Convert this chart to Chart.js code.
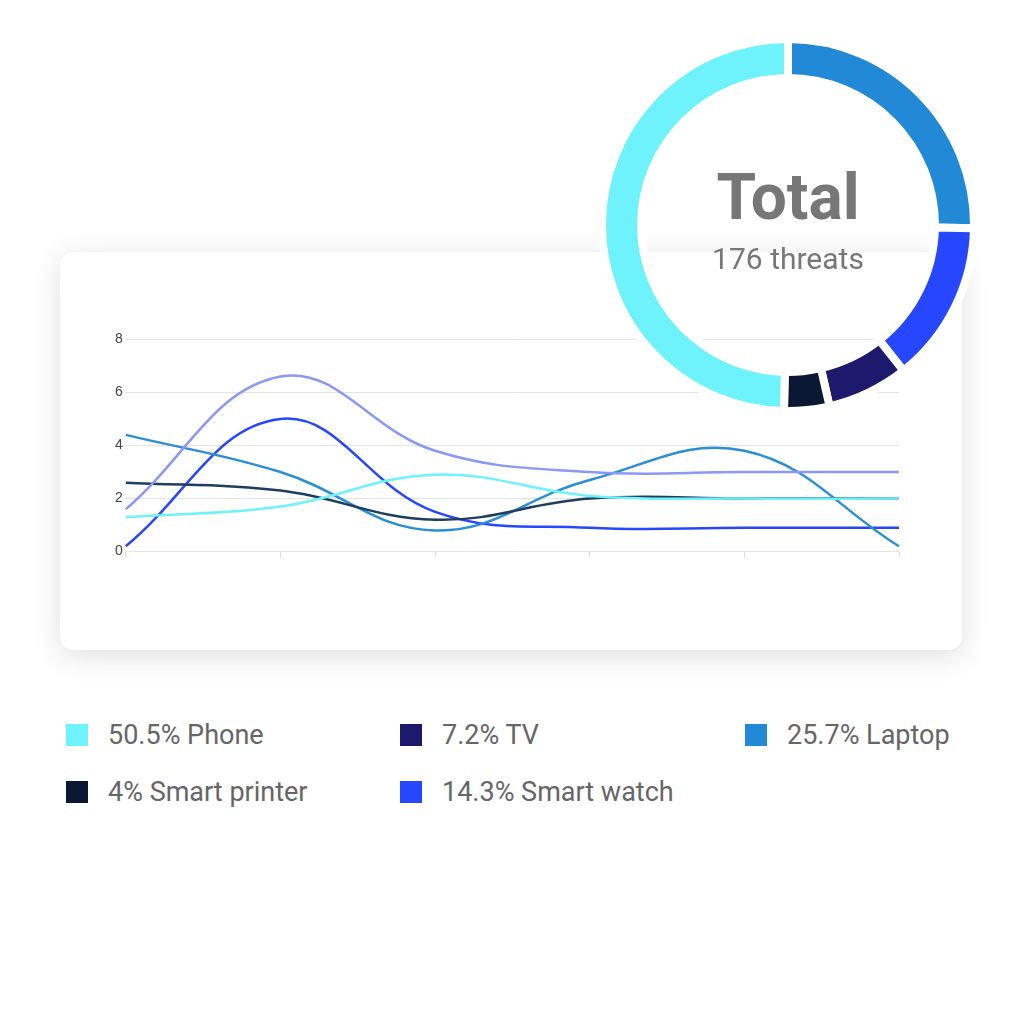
<!DOCTYPE html>
<html>
<head>
<meta charset="utf-8">
<script src="https://cdn.jsdelivr.net/npm/chart.js@4"></script>
<style>
body { margin:0; background:#fff; font-family: Roboto, sans-serif; }
#card { position:absolute; left:60px; top:252px; width:902px; height:398px; background:#fff; border-radius:14px; box-shadow:0 6px 30px rgba(0,0,0,0.13); }
#lineWrap { position:absolute; left:112px; top:328px; width:790px; height:250px; }
#donutWrap { position:absolute; left:598px; top:35px; width:380px; height:380px; }
#center { position:absolute; left:598px; top:160px; width:380px; text-align:center; color:#777; pointer-events:none; }
#center .t { font-size:64px; font-weight:bold; line-height:76px; }
#center .s { font-size:30px; line-height:46px; }
.leg { position:absolute; font-size:27px; color:#666; display:flex; align-items:center; }
.leg span { display:inline-block; width:22px; height:22px; margin-right:20px; }
</style>
</head>
<body>
<div id="card"></div>
<div id="lineWrap"><canvas id="line"></canvas></div>
<div id="donutWrap"><canvas id="donut"></canvas></div>
<div id="center"><div class="t">Total</div><div class="s">176 threats</div></div>
<div id="legend"></div>
<script>
const labels = ['', '', '', '', '', ''];
const watchBg = [1.6, 6.6, 3.8, 3.0, 3.0, 3.0];
const watch = [0.2, 5.0, 1.5, 0.9, 0.9, 0.9];
const phone = [1.3, 1.7, 2.9, 2.1, 2.0, 2.0];
const printer = [2.6, 2.3, 1.2, 2.0, 2.0, 2.0];
const laptop = [4.4, 3.0, 0.8, 2.7, 3.8, 0.2];

const categories = ['Laptop', 'Smart watch', 'TV', 'Smart printer', 'Phone'];
const shares = [25.7, 14.3, 7.2, 4, 50.5];
const colors = ['#2189d6', '#2747ff', '#1d1a6e', '#0a1833', '#6ef2fc'];

function ds(data, color) {
  return { data, borderColor: color, borderWidth: 2.5, pointRadius: 0, fill: false, tension: 0.4 };
}

new Chart(document.getElementById('line'), {
  type: 'line',
  data: {
    labels,
    datasets: [
      ds(watchBg, '#8a98f6'),
      ds(phone, '#6ef2fc'),
      ds(printer, '#1f3d5f'),
      ds(laptop, '#2a8fd6'),
      ds(watch, '#2747ff')
    ]
  },
  options: {
    responsive: true, maintainAspectRatio: false, animation: false,
    plugins: { legend: { display: false }, tooltip: { enabled: false } },
    scales: {
      x: { grid: { drawOnChartArea: false, tickLength: 6, color: '#ddd' }, border: { display: false }, ticks: { display: true } },
      y: { min: 0, max: 8, ticks: { stepSize: 2, color: '#444', font: { size: 14 } }, grid: { color: '#e4e4e4', drawTicks: false }, border: { display: false } }
    }
  }
});

new Chart(document.getElementById('donut'), {
  type: 'doughnut',
  data: { labels: categories, datasets: [{ data: shares, backgroundColor: colors, borderColor: '#fff', borderWidth: 8 }] },
  options: {
    responsive: true, maintainAspectRatio: false, animation: false, cutout: '79%',
    plugins: { legend: { display: false }, tooltip: { enabled: false } }
  }
});

const legendItems = [
  ['50.5% Phone', '#6ef2fc', 66, 736],
  ['7.2% TV', '#1d1a6e', 400, 736],
  ['25.7% Laptop', '#2189d6', 745, 736],
  ['4% Smart printer', '#0a1833', 66, 793],
  ['14.3% Smart watch', '#2747ff', 400, 793]
];
const lg = document.getElementById('legend');
legendItems.forEach(([t, c, x, y]) => {
  const d = document.createElement('div');
  d.className = 'leg';
  d.style.left = x + 'px'; d.style.top = (y - 17) + 'px';
  d.innerHTML = '<span style="background:' + c + '"></span>' + t;
  lg.appendChild(d);
});
</script>
</body>
</html>
